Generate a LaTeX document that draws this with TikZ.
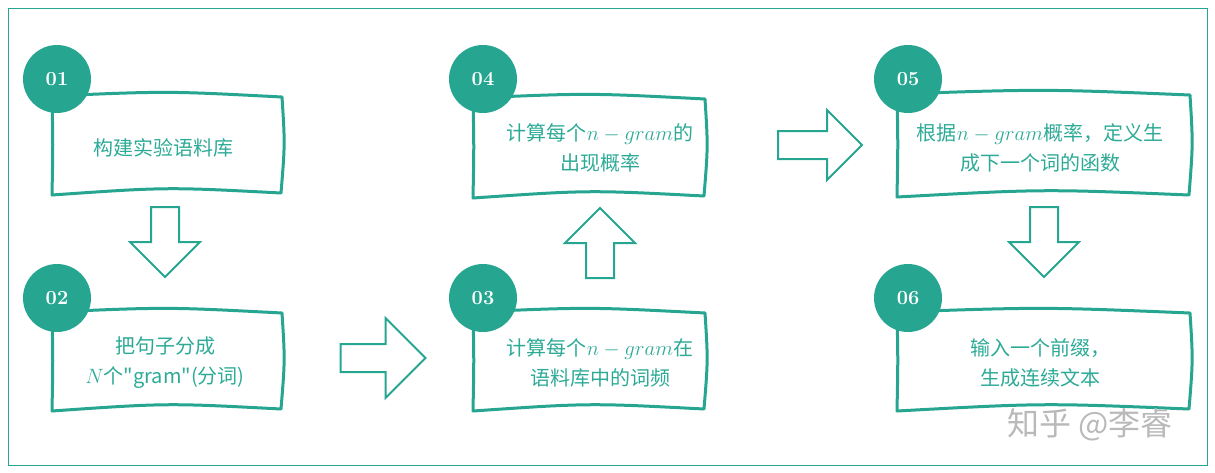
\documentclass[tikz,border=0pt]{standalone}
\usepackage{fontspec}
\newfontfamily\cjk{Noto Sans CJK SC}
\definecolor{teal1}{RGB}{38,166,145}
\definecolor{tealtext}{RGB}{45,170,150}
\begin{document}
\begin{tikzpicture}[x=1pt,y=-1pt,
  sbox/.style={draw=teal1,line width=3pt,line join=round},
  num/.style={circle,fill=teal1,minimum size=68pt,inner sep=0pt,text=white,font=\bfseries\fontsize{20}{24}\selectfont},
  txt/.style={text=tealtext,font=\cjk\fontsize{20}{30}\selectfont,align=center},
  barrow/.style={draw=teal1,line width=2pt,fill=white,line join=miter}]
\useasboundingbox (0,0) rectangle (1215,472);
\draw[teal1,line width=1pt] (8,8) rectangle (1207,465);
\newcommand\skbox[4]{%
  \draw[sbox] (#1,#2+2) .. controls ({(#1+#3)/2},#2-3) .. (#3,#2+3)
    .. controls (#3+3,{(#2+#4)/2}) .. (#3-1,#4-1)
    .. controls ({(#1+#3)/2},#4-7) .. (#1,#4+1)
    .. controls (#1+1,{(#2+#4)/2}) .. cycle;}
\newcommand\blk[5]{% cx cy rot length halfwidth
  \begin{scope}[shift={(#1,#2)},rotate=#3]
  \draw[barrow] ({-#4/2},-14) -- ({#4/2-#5},-14) -- ({#4/2-#5},{-#5}) -- ({#4/2},0)
    -- ({#4/2-#5},{#5}) -- ({#4/2-#5},14) -- ({-#4/2},14) -- cycle;
  \end{scope}}
\skbox{52}{94}{282}{194}
\skbox{52}{310}{282}{410}
\skbox{473}{310}{705}{410}
\skbox{473}{96}{705}{197}
\skbox{897}{92}{1190}{196}
\skbox{897}{310}{1190}{410}
\node[num] (c1) at (57,79) {01};
\node[num] (c2) at (57,298) {02};
\node[num] (c3) at (483,298) {03};
\node[num] (c4) at (483,79) {04};
\node[num] (c5) at (908,79) {05};
\node[num] (c6) at (908,298) {06};
\node[txt] (t1) at (163,148) {构建实验语料库};
\node[txt] (t2) at (165,363) {把句子分成\\$N$个"gram"(分词)};
\node[txt] (t3) at (600,363) {计算每个$n-gram$在\\语料库中的词频};
\node[txt] (t4) at (600,148) {计算每个$n-gram$的\\出现概率};
\node[txt] (t5) at (1040,148) {根据$n-gram$概率，定义生\\成下一个词的函数};
\node[txt] (t6) at (1040,363) {输入一个前缀，\\生成连续文本};
\blk{165}{242}{-90}{70}{35}
\blk{383}{358}{0}{85}{40}
\blk{600}{243}{90}{70}{35}
\blk{820}{145}{0}{84}{35}
\blk{1044}{242}{-90}{70}{35}
\node[text=gray!55,font=\cjk\fontsize{32}{36}\selectfont] (wm) at (1090,425) {知乎 @李睿};
\end{tikzpicture}
\end{document}
